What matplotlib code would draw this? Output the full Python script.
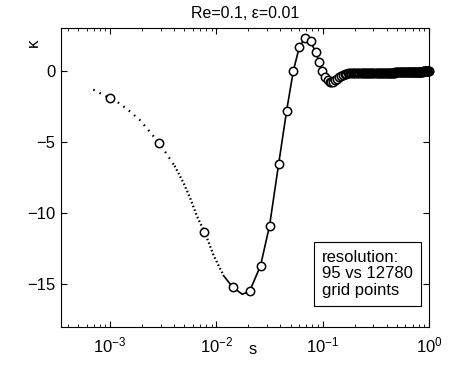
import numpy as np
import matplotlib
matplotlib.use("Agg")
import matplotlib.pyplot as plt

plt.rcParams["font.family"] = ["Liberation Sans", "DejaVu Sans"]
plt.rcParams["mathtext.fontset"] = "custom"
plt.rcParams["mathtext.rm"] = "Liberation Sans"

# --- fine grid solution (12780 points), read at knots ---
s_fino = [6.95e-4, 1.0e-3, 1.22e-3, 1.5e-3, 1.92e-3, 2.4e-3, 2.9e-3, 3.3e-3,
          4.04e-3, 4.92e-3, 5.7e-3, 6.58e-3, 7.7e-3, 8.5e-3, 9.44e-3, 0.0117,
          0.0142, 0.0175, 0.0205, 0.026, 0.0316, 0.0385, 0.0458, 0.053,
          0.0603, 0.068, 0.077, 0.086, 0.093, 0.0993, 0.105, 0.111, 0.117,
          0.123, 0.135, 0.147, 0.159, 0.172, 0.2, 0.3, 0.5, 0.7, 1.0]
k_fino = [-1.33, -1.95, -2.28, -2.8, -3.49, -4.35, -5.1, -5.7,
          -6.68, -7.9, -9.0, -10.24, -11.3, -12.1, -13.0, -14.4,
          -15.2, -15.7, -15.5, -13.7, -10.9, -6.56, -2.8, 0.0,
          1.67, 2.28, 2.05, 1.28, 0.58, -0.05, -0.42, -0.65, -0.78,
          -0.78, -0.56, -0.37, -0.25, -0.17, -0.15, -0.14, -0.11, -0.08, -0.04]

# --- coarse grid solution (circles) ---
s_grueso = [1.0e-3, 2.9e-3, 7.7e-3, 0.0142, 0.0205, 0.026, 0.0316, 0.0385,
            0.0458, 0.053, 0.0603, 0.068, 0.077, 0.086, 0.093, 0.0993,
            0.105, 0.111, 0.117, 0.121,
            0.125, 0.131, 0.137, 0.143, 0.149, 0.155, 0.161, 0.167, 0.173, 0.179,
            0.185, 0.191, 0.197, 0.203, 0.209, 0.215, 0.221, 0.227, 0.233, 0.239,
            0.245, 0.251, 0.257, 0.263, 0.269, 0.275, 0.281, 0.287, 0.293, 0.299,
            0.307, 0.315, 0.323, 0.331, 0.339, 0.347, 0.355, 0.363, 0.371, 0.379,
            0.387, 0.395, 0.403, 0.411, 0.419, 0.427, 0.435, 0.443, 0.451, 0.459,
            0.467, 0.475, 0.483, 0.491, 0.499,
            0.51, 0.52, 0.53, 0.54, 0.55, 0.56, 0.57, 0.58, 0.59, 0.60,
            0.61, 0.62, 0.63, 0.64, 0.65, 0.66, 0.67, 0.68, 0.69, 0.70,
            0.71, 0.72, 0.73, 0.74, 0.75, 0.76, 0.77, 0.78, 0.79, 0.80,
            0.81, 0.82, 0.83, 0.84, 0.85, 0.86, 0.87, 0.88, 0.89, 0.90,
            0.91, 0.92, 0.93, 0.94, 0.95, 0.96, 0.97, 0.98, 0.99, 1.00]
k_grueso = [-1.95, -5.1, -11.3, -15.2, -15.5, -13.7, -10.9, -6.56,
            -2.8, 0.0, 1.67, 2.28, 2.05, 1.28, 0.58, -0.05,
            -0.42, -0.65, -0.78, -0.79,
            -0.76, -0.66, -0.55, -0.45, -0.37, -0.31, -0.26, -0.22, -0.19, -0.18,
            -0.17, -0.17, -0.16, -0.16, -0.16, -0.16, -0.16, -0.16, -0.16, -0.16,
            -0.16, -0.16, -0.16, -0.15, -0.15, -0.15, -0.15, -0.15, -0.15, -0.15,
            -0.15, -0.15, -0.15, -0.15, -0.15, -0.14, -0.14, -0.14, -0.14, -0.14,
            -0.14, -0.14, -0.14, -0.14, -0.13, -0.13, -0.13, -0.13, -0.13, -0.13,
            -0.13, -0.13, -0.12, -0.12, -0.12,
            -0.12, -0.12, -0.12, -0.11, -0.11, -0.11, -0.11, -0.11, -0.11, -0.10,
            -0.10, -0.10, -0.10, -0.10, -0.10, -0.09, -0.09, -0.09, -0.09, -0.09,
            -0.09, -0.08, -0.08, -0.08, -0.08, -0.08, -0.08, -0.07, -0.07, -0.07,
            -0.07, -0.07, -0.06, -0.06, -0.06, -0.06, -0.06, -0.05, -0.05, -0.05,
            -0.05, -0.05, -0.04, -0.04, -0.04, -0.04, -0.04, -0.03, -0.03, -0.03]

y_ticks = [-15, -10, -5, 0]

s_fino = np.array(s_fino)
k_fino = np.array(k_fino)
s_grueso = np.array(s_grueso)
k_grueso = np.array(k_grueso)

fig = plt.figure(figsize=(4.74, 3.68), dpi=100)
ax = fig.add_axes([0.1287, 0.1114, 0.7763, 0.8126])

# parte punteada de la curva fina (puntos dispersos en eje log)
m1 = s_fino <= 4.04e-3
m2 = (s_fino >= 4.04e-3) & (s_fino <= 0.0117)
m3 = s_fino >= 0.0117
ax.plot(s_fino[m1], k_fino[m1], color="black", lw=1.6, dashes=(0.7, 2.4))
ax.plot(s_fino[m2], k_fino[m2], color="black", lw=1.6, dashes=(0.7, 1.1))
ax.plot(s_fino[m3], k_fino[m3], color="black", lw=1.2)

# círculos: la cola densa se funde en una banda negra
cola = s_grueso >= 0.15
estilo = dict(linestyle="none", marker="o", markersize=6, markeredgecolor="black",
              markeredgewidth=1.1, clip_on=False)
ax.plot(s_grueso[~cola], k_grueso[~cola], markerfacecolor="white", **estilo)
ax.plot(s_grueso[cola], k_grueso[cola], markerfacecolor="none", **estilo)

ax.set_xscale("log")
ax.set_xlim(3.45e-4, 1.0)
ax.set_ylim(-18, 3)
ax.set_yticks(y_ticks)
ax.set_yticklabels([str(v).replace("-", "\u2212") for v in y_ticks])

ax.tick_params(which="both", direction="in", top=True, right=True, labelsize=12)
ax.tick_params(which="major", length=4, width=0.8)
ax.tick_params(which="minor", length=2, width=0.6)
ax.tick_params(axis="x", pad=6)
ax.tick_params(axis="y", pad=4)
for sp in ax.spines.values():
    sp.set_linewidth(0.8)

ax.set_title("Re=0.1, \u03b5=0.01", fontsize=11.5, pad=7)
ax.set_xlabel("s", fontsize=12)
ax.xaxis.set_label_coords(0.52, -0.05)
ax.set_ylabel("\u03ba", fontsize=12)
ax.yaxis.set_label_coords(-0.055, 0.95)

ax.text(0.709, 0.257, "resolution:\n95 vs 12780\ngrid points", transform=ax.transAxes,
        fontsize=12, va="top", ha="left", linespacing=1.1,
        bbox=dict(boxstyle="square,pad=0.5", facecolor="white", edgecolor="black", lw=0.8))

fig.savefig("out.png", dpi=100)
